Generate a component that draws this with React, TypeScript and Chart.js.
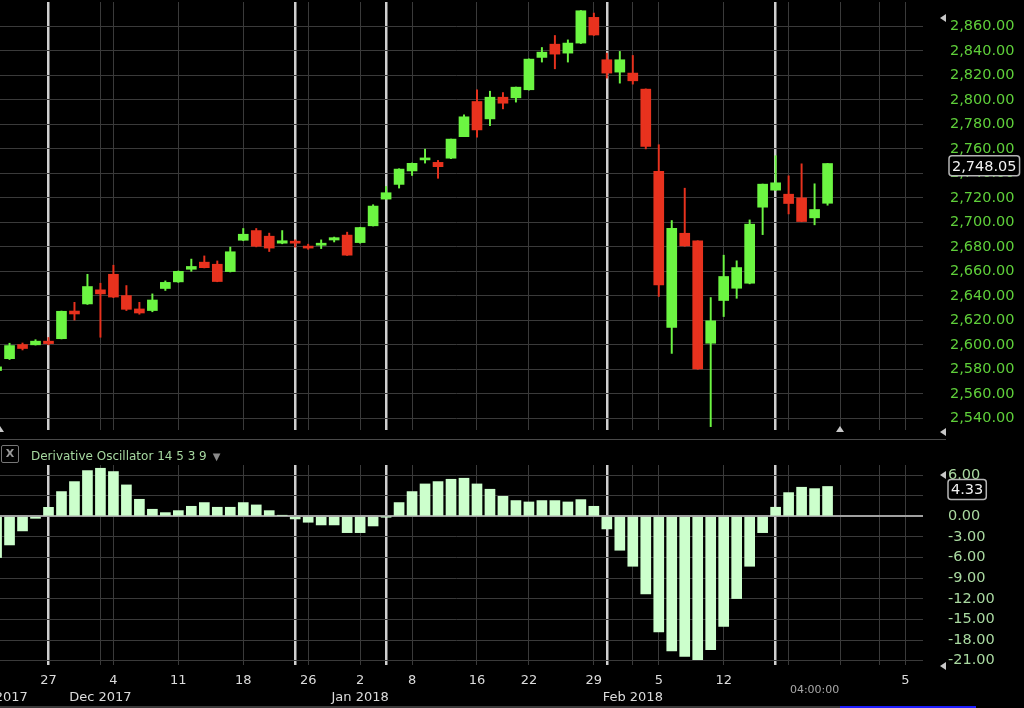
import React, { useEffect, useRef } from "react";
import { Chart, registerables } from "chart.js";

Chart.register(...registerables);

// ---------- DATA ----------
const tradingDays = [
  "2017-11-20", "2017-11-21", "2017-11-22", "2017-11-24",
  "2017-11-27", "2017-11-28", "2017-11-29", "2017-11-30", "2017-12-01",
  "2017-12-04", "2017-12-05", "2017-12-06", "2017-12-07", "2017-12-08",
  "2017-12-11", "2017-12-12", "2017-12-13", "2017-12-14", "2017-12-15",
  "2017-12-18", "2017-12-19", "2017-12-20", "2017-12-21", "2017-12-22",
  "2017-12-26", "2017-12-27", "2017-12-28", "2017-12-29",
  "2018-01-02", "2018-01-03", "2018-01-04", "2018-01-05",
  "2018-01-08", "2018-01-09", "2018-01-10", "2018-01-11", "2018-01-12",
  "2018-01-16", "2018-01-17", "2018-01-18", "2018-01-19",
  "2018-01-22", "2018-01-23", "2018-01-24", "2018-01-25", "2018-01-26",
  "2018-01-29", "2018-01-30", "2018-01-31", "2018-02-01", "2018-02-02",
  "2018-02-05", "2018-02-06", "2018-02-07", "2018-02-08", "2018-02-09",
  "2018-02-12", "2018-02-13", "2018-02-14", "2018-02-15", "2018-02-16",
  "2018-02-20", "2018-02-21", "2018-02-22", "2018-02-23",
  "2018-02-26", "2018-02-27", "2018-02-28", "2018-03-01", "2018-03-02",
  "2018-03-05", "2018-03-06",
];

const openPrices = [
  2579, 2588.7, 2600.2, 2600, 2603, 2605, 2627.6, 2633.4, 2644.9,
  2657.6, 2640.2, 2629.3, 2628, 2646, 2651.4, 2661.7, 2667.5, 2665.8, 2659.8,
  2685.4, 2693.3, 2688.7, 2683, 2684, 2680.5, 2681.3, 2685.6, 2689.6,
  2683.5, 2697.2, 2719, 2731, 2742, 2751, 2749, 2752.4, 2770,
  2798.7, 2784.5, 2802.2, 2801.7, 2808.3, 2834.7, 2845.5, 2838.2, 2846.4,
  2867.4, 2832.8, 2822.7, 2821.9, 2808.8, 2741.6, 2614.3, 2691.1, 2684.9, 2601.3,
  2636.2, 2646.2, 2650.3, 2712.4, 2726.3, 2723, 2720, 2703.7, 2715.6,
];
const highPrices = [
  2583, 2601.3, 2601.5, 2604.2, 2606, 2627.6, 2634.7, 2657.6, 2650.3,
  2665, 2648.4, 2634.7, 2641.6, 2652.2, 2660.3, 2670, 2672.6, 2668.5, 2679.8,
  2695, 2695, 2691.2, 2693.3, 2685.7, 2682.2, 2685.7, 2688, 2692,
  2696, 2714.4, 2729.3, 2743.8, 2748.5, 2759.8, 2750.6, 2768, 2787.8,
  2808.2, 2807.1, 2806, 2810.5, 2833.5, 2842.8, 2852.6, 2849, 2873,
  2870.9, 2838.2, 2839.6, 2836.3, 2809, 2763.4, 2701.5, 2727.9, 2685, 2638.6,
  2673.2, 2668.6, 2702, 2731.3, 2754.4, 2738, 2747.8, 2731.5, 2748.1,
];
const lowPrices = [
  2577, 2588, 2595.8, 2599.8, 2600, 2604.8, 2620.2, 2633, 2606.2,
  2638.5, 2628, 2625, 2627, 2644.4, 2651, 2660, 2662.8, 2651.5, 2659.5,
  2685, 2680, 2676.2, 2682.5, 2679.7, 2678, 2678.6, 2684, 2673,
  2683, 2697, 2719, 2728, 2738.3, 2748.4, 2736, 2752, 2770,
  2769.6, 2779, 2792.7, 2798.2, 2808, 2830.9, 2825.4, 2830.9, 2846,
  2852.6, 2817.8, 2813.7, 2812.9, 2760, 2639.5, 2593, 2680.5, 2580, 2533.2,
  2623.1, 2638, 2649.8, 2690, 2726, 2706.9, 2700.5, 2698, 2714,
];
const closePrices = [
  2582, 2599.4, 2597, 2603, 2601, 2627.4, 2625.2, 2647.6, 2641.6,
  2639, 2629, 2626, 2636.6, 2651, 2660, 2664, 2663, 2651.7, 2676,
  2690.3, 2680.5, 2679, 2685, 2683, 2679, 2683, 2687.5, 2673.2,
  2695.8, 2713.3, 2724.2, 2743.5, 2748.2, 2751.3, 2745.5, 2768, 2786.2,
  2775.5, 2802.2, 2797.3, 2810.4, 2833.3, 2839, 2837.4, 2846.4, 2872.8,
  2853, 2821.9, 2832.8, 2815.6, 2762, 2649, 2695.2, 2680.8, 2580.3, 2619.6,
  2655.8, 2663.1, 2698.5, 2731.2, 2732.3, 2715.4, 2700.7, 2710.5, 2748.05,
];

const oscillatorValues = [
  -6.0, -4.17, -2.13, -0.3, 1.3, 3.59, 5.04, 6.64, 6.98,
  6.5, 4.56, 2.47, 1.02, 0.53, 0.82, 1.45, 1.99, 1.31, 1.31,
  1.99, 1.65, 0.82, 0.15, -0.39, -0.87, -1.26, -1.26, -2.38,
  -2.38, -1.41, -0.1, 1.99, 3.59, 4.7, 5.04, 5.38, 5.53,
  4.7, 3.93, 2.9, 2.28, 2.08, 2.28, 2.28, 2.08, 2.42,
  1.45, -1.84, -4.94, -7.27, -11.29, -16.82, -19.58, -20.36, -20.84, -19.39,
  -16.0, -11.97, -7.27, -2.38, 1.31, 3.44, 4.22, 4.02, 4.33,
];

const dayTickDates = [
  "2017-11-27", "2017-12-04", "2017-12-11", "2017-12-18", "2017-12-26",
  "2018-01-02", "2018-01-08", "2018-01-16", "2018-01-22", "2018-01-29",
  "2018-02-05", "2018-02-12", "2018-03-05",
];
const dayTickLabels = ["27", "4", "11", "18", "26", "2", "8", "16", "22", "29", "5", "12", "5"];
const monthTickDates = ["2017-11-20", "2017-12-01", "2018-01-02", "2018-02-01"];
const monthTickLabels = ["Nov 2017", "Dec 2017", "Jan 2018", "Feb 2018"];
const gridDates = [
  "2017-12-01", "2017-12-04", "2017-12-11", "2017-12-18", "2017-12-26",
  "2018-01-02", "2018-01-08", "2018-01-16", "2018-01-22", "2018-01-29",
  "2018-02-01", "2018-02-05", "2018-02-12", "2018-02-20", "2018-02-26",
  "2018-03-01", "2018-03-05",
];
const markerDates = ["2017-11-27", "2017-12-22", "2018-01-04", "2018-01-30", "2018-02-16"];
const timeTickDate = "2018-02-22";
const timeTickLabel = "04:00:00";

const priceTickStep = 20;
const oscTickStep = 3;
const lastPrice = 2748.05;
const lastOsc = 4.33;

// ---------- STYLE ----------
const FONT = "'DejaVu Sans', Verdana, sans-serif";
const GREEN = "#6cf542";
const RED = "#e8321e";
const GRID = "#3a3a3a";
const MARKER = "#cfcfcf";
const BAR = "#ccffcc";
const X_MIN = -0.505;
const X_MAX = 71.35;

const idxOf = (d: string) => tradingDays.indexOf(d);
const gridIdx = gridDates.map(idxOf);
const markerIdx = markerDates.map(idxOf);
const dayIdx = dayTickDates.map(idxOf);
const monthIdx = monthTickDates.map(idxOf);
const timeIdx = idxOf(timeTickDate);
const labelTickIdx = Array.from(
  new Set([...gridIdx, ...dayIdx, ...monthIdx, timeIdx])
).sort((a, b) => a - b);

function xLabel(v: number): string | string[] {
  const di = dayIdx.indexOf(v);
  const mi = monthIdx.indexOf(v);
  if (v === timeIdx) return timeTickLabel;
  if (mi >= 0) return [di >= 0 ? dayTickLabels[di] : "", monthTickLabels[mi]];
  if (di >= 0) return dayTickLabels[di];
  return "";
}

const noPad = (s: any) => {
  s.paddingLeft = 0;
  s.paddingRight = 0;
  s.paddingTop = 0;
  s.paddingBottom = 0;
};

function valueBox(id: string, value: number, text: string, dx: number, dy: number) {
  return {
    id,
    afterDraw(chart: any) {
      const s = chart.scales.y;
      const y = s.getPixelForValue(value) + dy;
      const ctx = chart.ctx as CanvasRenderingContext2D;
      ctx.save();
      ctx.font = `14.5px ${FONT}`;
      const w = ctx.measureText(text).width + 6;
      const h = 20;
      const x = chart.chartArea.right + dx;
      ctx.beginPath();
      (ctx as any).roundRect(x, y - h / 2, w, h, 3);
      ctx.fillStyle = "#000";
      ctx.fill();
      ctx.lineWidth = 1.5;
      ctx.strokeStyle = "#b5b5b5";
      ctx.stroke();
      ctx.fillStyle = "#f2f2f2";
      ctx.textBaseline = "middle";
      ctx.textAlign = "left";
      ctx.fillText(text, x + 3, y + 1);
      ctx.restore();
    },
  };
}

function markerAxis(): any {
  return {
    type: "linear",
    position: "bottom",
    min: X_MIN,
    max: X_MAX,
    offset: false,
    z: 1,
    afterBuildTicks: (s: any) => {
      s.ticks = markerIdx.map((v) => ({ value: v }));
    },
    ticks: { display: false },
    grid: { color: MARKER, lineWidth: 2.5, drawTicks: false, offset: false },
    border: { display: false },
    afterFit: (s: any) => {
      s.height = 0;
      noPad(s);
    },
  };
}

function priceConfig(): any {
  const idx = closePrices.map((_, i) => i);
  const colors = idx.map((i) => (closePrices[i] >= openPrices[i] ? GREEN : RED));
  return {
    type: "bar",
    data: {
      datasets: [
        {
          label: "wick",
          data: idx.map((i) => ({ x: i, y: [lowPrices[i], highPrices[i]] })),
          backgroundColor: colors,
          barThickness: 1.3,
          grouped: false,
        },
        {
          label: "body",
          data: idx.map((i) => ({
            x: i,
            y: [Math.min(openPrices[i], closePrices[i]), Math.max(openPrices[i], closePrices[i])],
          })),
          backgroundColor: colors,
          barThickness: 10,
          minBarLength: 2,
          grouped: false,
        },
      ],
    },
    options: {
      animation: false,
      responsive: false,
      layout: { autoPadding: false, padding: { left: 10, top: 2, right: 0, bottom: 0 } },
      plugins: { legend: { display: false }, tooltip: { enabled: false } },
      scales: {
        x: {
          type: "linear",
          min: X_MIN,
          max: X_MAX,
          offset: false,
          afterBuildTicks: (s: any) => {
            s.ticks = gridIdx.map((v) => ({ value: v }));
          },
          ticks: { display: false, autoSkip: false },
          grid: { color: GRID, lineWidth: 1, drawTicks: false, offset: false },
          border: { display: false },
          afterFit: (s: any) => {
            s.height = 10;
            noPad(s);
          },
        },
        xMarks: markerAxis(),
        y: {
          position: "right",
          min: 2530.45,
          max: 2879.95,
          ticks: {
            stepSize: priceTickStep,
            includeBounds: false,
            autoSkip: false,
            color: "#5fcf3a",
            padding: 27,
            font: { family: FONT, size: 14.5 },
            callback: (v: number) =>
              Number(v).toLocaleString("en-US", { minimumFractionDigits: 2, maximumFractionDigits: 2 }),
          },
          grid: { color: GRID, lineWidth: 1, drawTicks: false },
          border: { display: false },
          afterFit: (s: any) => {
            s.width = 101;
            noPad(s);
          },
        },
      },
    },
    plugins: [
      valueBox(
        "lastPrice",
        lastPrice,
        lastPrice.toLocaleString("en-US", { minimumFractionDigits: 2 }),
        26,
        2.3
      ),
    ],
  };
}

function oscConfig(): any {
  return {
    type: "bar",
    data: {
      datasets: [
        {
          label: "Derivative Oscillator 14 5 3 9",
          data: oscillatorValues.map((v, i) => ({ x: i, y: v })),
          backgroundColor: BAR,
          barThickness: 10,
          grouped: false,
        },
      ],
    },
    options: {
      animation: false,
      responsive: false,
      layout: { autoPadding: false, padding: { left: 10, top: 25, right: 0, bottom: 0 } },
      plugins: { legend: { display: false }, tooltip: { enabled: false } },
      scales: {
        x: {
          type: "linear",
          min: X_MIN,
          max: X_MAX,
          offset: false,
          afterBuildTicks: (s: any) => {
            s.ticks = labelTickIdx.map((v) => ({ value: v }));
          },
          ticks: {
            autoSkip: false,
            maxRotation: 0,
            minRotation: 0,
            padding: 6.7,
            callback: (v: number) => xLabel(v),
            color: (c: any) => (c.tick && c.tick.value === timeIdx ? "#a8a8a8" : "#dcdcdc"),
            font: (c: any) =>
              c.tick && c.tick.value === timeIdx
                ? { family: FONT, size: 11, lineHeight: 36.6 / 11 }
                : { family: FONT, size: 13, lineHeight: 17.2 / 13 },
          },
          grid: {
            color: (c: any) => (c.tick && gridIdx.includes(c.tick.value) ? GRID : "rgba(0,0,0,0)"),
            lineWidth: 1,
            drawTicks: false,
            offset: false,
          },
          border: { display: false },
          afterFit: (s: any) => {
            s.height = 43;
            noPad(s);
          },
        },
        xMarks: markerAxis(),
        y: {
          position: "right",
          min: -21.625,
          max: 7.454,
          ticks: {
            stepSize: oscTickStep,
            includeBounds: false,
            autoSkip: false,
            color: "#a9d9a0",
            padding: 25,
            font: { family: FONT, size: 14.5 },
            callback: (v: number) => Number(v).toFixed(2),
          },
          grid: {
            color: (c: any) => (c.tick && c.tick.value === 0 ? "#a0a0a0" : GRID),
            lineWidth: (c: any) => (c.tick && c.tick.value === 0 ? 2 : 1),
            drawTicks: false,
          },
          border: { display: false },
          afterFit: (s: any) => {
            s.width = 101;
            noPad(s);
          },
        },
      },
    },
    plugins: [valueBox("lastOsc", lastOsc, lastOsc.toFixed(2), 25, 3)],
  };
}

const triLeft = (left: number, top: number): React.CSSProperties => ({
  position: "absolute",
  left,
  top,
  width: 0,
  height: 0,
  borderTop: "4px solid transparent",
  borderBottom: "4px solid transparent",
  borderRight: "6px solid #c8c8c8",
});
const triUp = (left: number, top: number): React.CSSProperties => ({
  position: "absolute",
  left,
  top,
  width: 0,
  height: 0,
  borderLeft: "4px solid transparent",
  borderRight: "4px solid transparent",
  borderBottom: "6px solid #c8c8c8",
});

export default function App() {
  const topRef = useRef<HTMLCanvasElement>(null);
  const botRef = useRef<HTMLCanvasElement>(null);

  useEffect(() => {
    const top = new Chart(topRef.current as HTMLCanvasElement, priceConfig());
    const bot = new Chart(botRef.current as HTMLCanvasElement, oscConfig());
    return () => {
      top.destroy();
      bot.destroy();
    };
  }, []);

  return (
    <div
      style={{
        position: "fixed",
        left: 0,
        top: 0,
        width: 1024,
        height: 708,
        background: "#000",
        overflow: "hidden",
        fontFamily: FONT,
      }}
    >
      <canvas
        ref={topRef}
        width={1044}
        height={440}
        style={{ position: "absolute", left: -20, top: 0, width: 1044, height: 440 }}
      />
      <canvas
        ref={botRef}
        width={1044}
        height={268}
        style={{ position: "absolute", left: -20, top: 440, width: 1044, height: 268 }}
      />
      <div style={{ position: "absolute", left: 0, top: 439, width: 946, height: 1, background: "#4a4a4a" }} />
      <div
        style={{
          position: "absolute",
          left: 1,
          top: 445,
          width: 16,
          height: 16,
          border: "1px solid #777",
          borderRadius: 2,
          color: "#9a9a9a",
          fontSize: 11,
          fontWeight: "bold",
          lineHeight: "16px",
          textAlign: "center",
        }}
      >
        X
      </div>
      <div
        style={{
          position: "absolute",
          left: 31,
          top: 448,
          fontSize: 12,
          lineHeight: "16px",
          color: "#a6d8a0",
          whiteSpace: "nowrap",
        }}
      >
        Derivative Oscillator 14 5 3 9
        <span style={{ color: "#8a8a8a", fontSize: 10, marginLeft: 6 }}>▼</span>
      </div>
      <div style={triLeft(940, 14)} />
      <div style={triLeft(940, 428)} />
      <div style={triLeft(940, 471)} />
      <div style={triLeft(940, 662)} />
      <div style={triUp(836, 426)} />
      <div style={triUp(-4, 426)} />
      <div style={{ position: "absolute", left: 0, top: 706, width: 840, height: 2, background: "#3a3a3a" }} />
      <div style={{ position: "absolute", left: 840, top: 706, width: 136, height: 2, background: "#1f1fff" }} />
    </div>
  );
}
